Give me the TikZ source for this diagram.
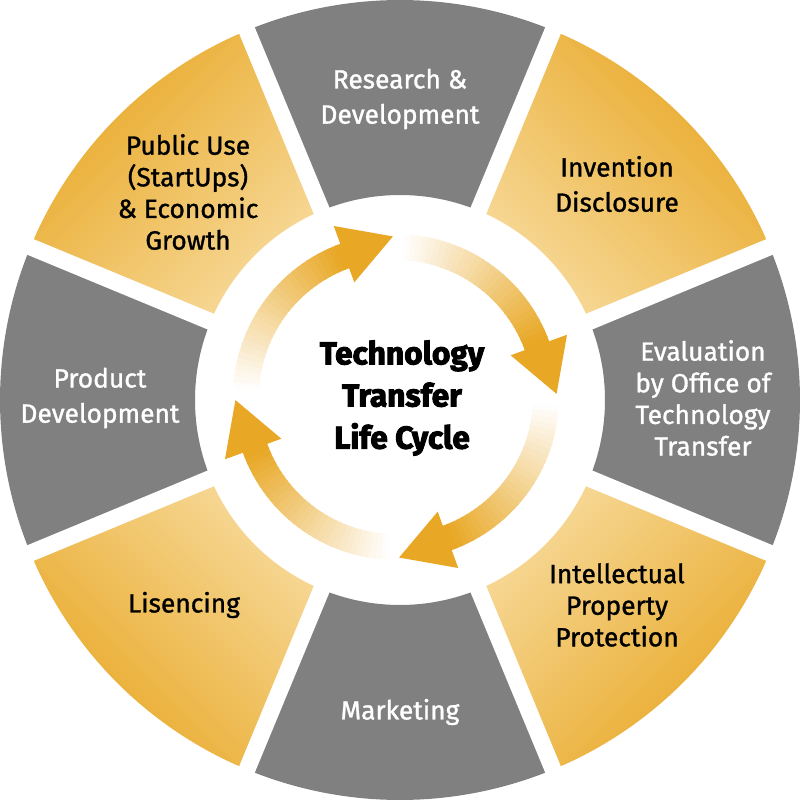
\documentclass[tikz,border=0pt]{standalone}
\usepackage{fontspec}
\setmainfont{Fira Sans}[FakeBold=1.2]
\newfontfamily\heavyfont{Fira Sans}[BoldFeatures={FakeBold=3}]
\usetikzlibrary{calc}

\definecolor{ttgray}{RGB}{128,128,128}
\definecolor{ttgold}{RGB}{232,167,36}
\definecolor{ttlight}{RGB}{247,218,155}

\tikzset{
	lblw/.style={text=white,align=center,font=\fontsize{15}{18}\selectfont},
	lblk/.style={text=black,align=center,font=\fontsize{15}{18}\selectfont},
	wide/.style={font=\fontsize{15}{20}\selectfont},
	ttitle/.style={text=black,align=center,font=\heavyfont\bfseries\fontsize{18}{24}\selectfont},
}

\begin{document}
\begin{tikzpicture}[x=0.02cm,y=0.02cm]

	\def\rin{205}
	\def\rout{400}

	\useasboundingbox (-400,-401) rectangle (401,400);

	% gray segments
	\foreach \c in {90,0,-90,180}
		\fill[ttgray] (\c-22.5:\rin) arc[start angle=\c-22.5,end angle=\c+22.5,radius=\rin]
			-- (\c+22.5:\rout) arc[start angle=\c+22.5,end angle=\c-22.5,radius=\rout] -- cycle;

	% gold segments, dark on the outside
	\foreach \c in {45,-45,-135,135}{
		\pgfmathsetmacro\sa{\c-90}
		\shade[top color=ttgold,bottom color=ttlight,shading angle=\sa]
			(\c-22.5:\rin) arc[start angle=\c-22.5,end angle=\c+22.5,radius=\rin]
			-- (\c+22.5:\rout) arc[start angle=\c+22.5,end angle=\c-22.5,radius=\rout] -- cycle;
	}

	% white gaps
	\foreach \g in {22.5,67.5,...,337.5}
		\draw[white,line width=9.6pt] (\g:185) -- (\g:420);

	% arrows of the cycle
	\begin{scope}[shift={(-4,3)}]
	\foreach \b in {110,20,-70,-160}{
		\foreach \i in {0,...,29}{
			\pgfmathsetmacro\p{2+98*\i/29}
			\pgfmathsetmacro\aa{\b+67-\i*67/30}
			\pgfmathsetmacro\ab{\aa-67/30-0.6}
			\fill[ttgold!\p!white] (\aa:137) arc[start angle=\aa,end angle=\ab,radius=137]
				-- (\ab:163) arc[start angle=\ab,end angle=\aa,radius=163] -- cycle;
		}
		\fill[ttgold] (\b:122) -- (\b-18.9:160.6) -- (\b:182) -- cycle;
	}
	\end{scope}

	\node[lblw,wide] (rd) at (0,301) {Research \&\\Development};
	\node[lblk,wide] (inv) at (217,216) {Invention\\Disclosure};
	\node[lblw] (eval) at (303,2) {Evaluation\\by Office of\\Technology\\Transfer};
	\node[lblk] (ipp) at (217,-205) {Intellectual\\Property\\Protection};
	\node[lblw] (mkt) at (0,-312) {Marketing};
	\node[lblk] (lic) at (-216,-205) {Lisencing};
	\node[lblw,wide] (pd) at (-300,2) {Product\\Development};
	\node[lblk] (pub) at (-212,208) {Public Use\\(StartUps)\\\& Economic\\Growth};

	\node[ttitle] (ttl) at (2,2) {Technology\\Transfer\\Life Cycle};

\end{tikzpicture}
\end{document}
